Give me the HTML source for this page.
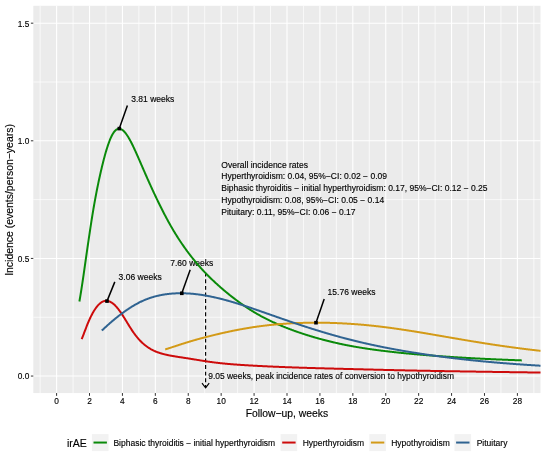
<!DOCTYPE html>
<html><head><meta charset="utf-8"><title>Incidence of irAE over follow-up</title>
<style>html,body{margin:0;padding:0;background:#fff}svg{display:block}text{font-family:"Liberation Sans",sans-serif;fill:#000;stroke:#000;stroke-width:0.14px}</style></head><body>
<svg width="550" height="455" viewBox="0 0 550 455">
<rect width="550" height="455" fill="#fff"/>
<rect x="33.3" y="5.8" width="507.2" height="387.25" fill="#ebebeb"/>
<g stroke="#ffffff" stroke-width="0.7">
<line x1="40.14" x2="40.14" y1="5.8" y2="393.05"/>
<line x1="73.06" x2="73.06" y1="5.8" y2="393.05"/>
<line x1="105.97" x2="105.97" y1="5.8" y2="393.05"/>
<line x1="138.88" x2="138.88" y1="5.8" y2="393.05"/>
<line x1="171.80" x2="171.80" y1="5.8" y2="393.05"/>
<line x1="204.71" x2="204.71" y1="5.8" y2="393.05"/>
<line x1="237.63" x2="237.63" y1="5.8" y2="393.05"/>
<line x1="270.54" x2="270.54" y1="5.8" y2="393.05"/>
<line x1="303.46" x2="303.46" y1="5.8" y2="393.05"/>
<line x1="336.37" x2="336.37" y1="5.8" y2="393.05"/>
<line x1="369.28" x2="369.28" y1="5.8" y2="393.05"/>
<line x1="402.20" x2="402.20" y1="5.8" y2="393.05"/>
<line x1="435.11" x2="435.11" y1="5.8" y2="393.05"/>
<line x1="468.03" x2="468.03" y1="5.8" y2="393.05"/>
<line x1="500.94" x2="500.94" y1="5.8" y2="393.05"/>
<line x1="533.85" x2="533.85" y1="5.8" y2="393.05"/>
<line x1="33.3" x2="540.5" y1="317.24" y2="317.24"/>
<line x1="33.3" x2="540.5" y1="199.61" y2="199.61"/>
<line x1="33.3" x2="540.5" y1="81.99" y2="81.99"/>
</g>
<g stroke="#ffffff" stroke-width="1.1">
<line x1="56.60" x2="56.60" y1="5.8" y2="393.05"/>
<line x1="89.51" x2="89.51" y1="5.8" y2="393.05"/>
<line x1="122.43" x2="122.43" y1="5.8" y2="393.05"/>
<line x1="155.34" x2="155.34" y1="5.8" y2="393.05"/>
<line x1="188.26" x2="188.26" y1="5.8" y2="393.05"/>
<line x1="221.17" x2="221.17" y1="5.8" y2="393.05"/>
<line x1="254.08" x2="254.08" y1="5.8" y2="393.05"/>
<line x1="287.00" x2="287.00" y1="5.8" y2="393.05"/>
<line x1="319.91" x2="319.91" y1="5.8" y2="393.05"/>
<line x1="352.83" x2="352.83" y1="5.8" y2="393.05"/>
<line x1="385.74" x2="385.74" y1="5.8" y2="393.05"/>
<line x1="418.65" x2="418.65" y1="5.8" y2="393.05"/>
<line x1="451.57" x2="451.57" y1="5.8" y2="393.05"/>
<line x1="484.48" x2="484.48" y1="5.8" y2="393.05"/>
<line x1="517.40" x2="517.40" y1="5.8" y2="393.05"/>
<line x1="33.3" x2="540.5" y1="376.05" y2="376.05"/>
<line x1="33.3" x2="540.5" y1="258.43" y2="258.43"/>
<line x1="33.3" x2="540.5" y1="140.80" y2="140.80"/>
<line x1="33.3" x2="540.5" y1="23.18" y2="23.18"/>
</g>
<text x="131.2" y="102" font-size="8.52" text-anchor="start" fill="#000" >3.81 weeks</text>
<text x="118.6" y="279.7" font-size="8.52" text-anchor="start" fill="#000" >3.06 weeks</text>
<text x="170.2" y="265.6" font-size="8.52" text-anchor="start" fill="#000" >7.60 weeks</text>
<text x="327.6" y="294.9" font-size="8.52" text-anchor="start" fill="#000" >15.76 weeks</text>
<text x="208.2" y="378.8" font-size="8.45" text-anchor="start" fill="#000" >9.05 weeks, peak incidence rates of conversion to hypothyroidism</text>
<text x="221.3" y="167.70" font-size="8.52" text-anchor="start" fill="#000" >Overall incidence rates</text>
<text x="221.3" y="179.48" font-size="8.52" text-anchor="start" fill="#000" >Hyperthyroidism: 0.04, 95%−CI: 0.02 − 0.09</text>
<text x="221.3" y="191.26" font-size="8.52" text-anchor="start" fill="#000" >Biphasic thyroiditis − initial hyperthyroidism: 0.17, 95%−CI: 0.12 − 0.25</text>
<text x="221.3" y="203.04" font-size="8.52" text-anchor="start" fill="#000" >Hypothyroidism: 0.08, 95%−CI: 0.05 − 0.14</text>
<text x="221.3" y="214.82" font-size="8.52" text-anchor="start" fill="#000" >Pituitary: 0.11, 95%−CI: 0.06 − 0.17</text>
<g stroke="#000" stroke-width="1.15" fill="none">
<line x1="205.6" y1="272.7" x2="205.6" y2="387.7" stroke-dasharray="3.9 2.7"/>
<path d="M202,383.1 L205.6,387.9 L209.2,383.1"/>
</g>
<clipPath id="pc"><rect x="33.3" y="5.8" width="507.2" height="387.25"/></clipPath>
<g clip-path="url(#pc)" fill="none" stroke-width="2.0" stroke-linejoin="round" stroke-linecap="butt">
<path d="M79.40,301.48 L79.90,298.54 L80.40,295.54 L80.90,292.47 L81.40,289.34 L81.90,286.13 L82.40,282.85 L82.90,279.50 L83.40,276.09 L83.90,272.63 L84.40,269.15 L84.90,265.64 L85.40,262.13 L85.90,258.62 L86.40,255.12 L86.90,251.64 L87.40,248.18 L87.90,244.74 L88.40,241.32 L88.90,237.93 L89.40,234.56 L89.90,231.23 L90.40,227.93 L90.90,224.66 L91.40,221.45 L91.90,218.28 L92.40,215.17 L92.90,212.13 L93.40,209.15 L93.90,206.23 L94.40,203.38 L94.90,200.59 L95.40,197.86 L95.90,195.20 L96.40,192.59 L96.90,190.04 L97.40,187.53 L97.90,185.08 L98.40,182.67 L98.90,180.31 L99.40,178.00 L99.90,175.72 L100.40,173.49 L100.90,171.30 L101.40,169.15 L101.90,167.04 L102.40,164.98 L102.90,162.96 L103.40,160.99 L103.90,159.06 L104.40,157.18 L104.90,155.34 L105.40,153.56 L105.90,151.82 L106.40,150.14 L106.90,148.51 L107.40,146.93 L107.90,145.42 L108.40,143.96 L108.90,142.56 L109.40,141.23 L109.90,139.95 L110.40,138.74 L110.90,137.60 L111.40,136.52 L111.90,135.51 L112.40,134.57 L112.90,133.70 L113.40,132.91 L113.90,132.18 L114.40,131.53 L114.90,130.96 L115.40,130.45 L115.90,130.01 L116.40,129.64 L116.90,129.33 L117.40,129.09 L117.90,128.91 L118.40,128.80 L118.90,128.75 L119.40,128.75 L119.90,128.82 L120.40,128.94 L120.90,129.12 L121.40,129.35 L121.90,129.63 L122.40,129.96 L122.90,130.35 L123.40,130.78 L123.90,131.25 L124.40,131.77 L124.90,132.33 L125.40,132.94 L125.90,133.58 L126.40,134.26 L126.90,134.97 L127.40,135.73 L127.90,136.51 L128.40,137.32 L128.90,138.17 L129.40,139.04 L129.90,139.94 L130.40,140.87 L130.90,141.81 L131.40,142.78 L131.90,143.77 L132.40,144.78 L132.90,145.81 L133.40,146.85 L133.90,147.91 L134.40,148.98 L134.90,150.07 L135.40,151.16 L135.90,152.27 L136.40,153.38 L136.90,154.50 L137.40,155.63 L137.90,156.77 L138.40,157.91 L138.90,159.05 L139.40,160.20 L139.90,161.35 L140.40,162.50 L140.90,163.66 L141.40,164.81 L141.90,165.97 L142.40,167.12 L142.90,168.27 L143.40,169.42 L143.90,170.57 L144.40,171.72 L144.90,172.86 L145.40,174.00 L145.90,175.14 L146.40,176.27 L146.90,177.40 L147.40,178.53 L147.90,179.65 L148.40,180.77 L148.90,181.89 L149.40,183.00 L149.90,184.10 L150.40,185.21 L150.90,186.30 L151.40,187.40 L151.90,188.49 L152.40,189.57 L152.90,190.65 L153.40,191.73 L153.90,192.80 L154.40,193.86 L154.90,194.92 L155.40,195.98 L155.90,197.03 L156.40,198.08 L156.90,199.12 L157.40,200.16 L157.90,201.19 L158.40,202.22 L158.90,203.25 L159.40,204.26 L159.90,205.28 L160.40,206.29 L160.90,207.29 L161.40,208.29 L161.90,209.28 L162.40,210.27 L162.90,211.25 L163.40,212.23 L163.90,213.20 L164.40,214.17 L164.90,215.13 L165.40,216.08 L165.90,217.03 L166.40,217.97 L166.90,218.90 L167.40,219.83 L167.90,220.75 L168.40,221.66 L168.90,222.57 L169.40,223.46 L169.90,224.36 L170.40,225.24 L170.90,226.12 L171.40,226.99 L171.90,227.85 L172.40,228.71 L172.90,229.56 L173.40,230.40 L173.90,231.24 L174.40,232.07 L174.90,232.89 L175.40,233.71 L175.90,234.51 L176.40,235.32 L176.90,236.11 L177.40,236.90 L177.90,237.69 L178.40,238.46 L178.90,239.23 L179.40,240.00 L179.90,240.76 L180.40,241.51 L180.90,242.26 L181.40,243.00 L181.90,243.73 L182.40,244.46 L182.90,245.19 L183.40,245.91 L183.90,246.62 L184.40,247.33 L184.90,248.03 L185.40,248.73 L185.90,249.43 L186.40,250.11 L186.90,250.80 L187.40,251.48 L187.90,252.15 L188.40,252.82 L188.90,253.48 L189.40,254.14 L189.90,254.80 L190.40,255.45 L190.90,256.09 L191.40,256.74 L191.90,257.37 L192.40,258.00 L192.90,258.63 L193.40,259.25 L193.90,259.87 L194.40,260.49 L194.90,261.10 L195.40,261.70 L195.90,262.30 L196.40,262.90 L196.90,263.49 L197.40,264.08 L197.90,264.66 L198.40,265.24 L198.90,265.82 L199.40,266.39 L199.90,266.95 L200.40,267.52 L200.90,268.07 L201.40,268.63 L201.90,269.18 L202.40,269.72 L202.90,270.27 L203.40,270.80 L203.90,271.34 L204.40,271.87 L204.90,272.39 L205.40,272.92 L205.90,273.44 L206.40,273.95 L206.90,274.46 L207.40,274.97 L207.90,275.48 L208.40,275.98 L208.90,276.48 L209.40,276.97 L209.90,277.47 L210.40,277.96 L210.90,278.44 L211.40,278.93 L211.90,279.41 L212.40,279.88 L212.90,280.36 L213.40,280.83 L213.90,281.30 L214.40,281.77 L214.90,282.24 L215.40,282.70 L215.90,283.16 L216.40,283.62 L216.90,284.07 L217.40,284.53 L217.90,284.98 L218.40,285.43 L218.90,285.88 L219.40,286.32 L219.90,286.76 L220.40,287.20 L220.90,287.64 L221.40,288.08 L221.90,288.51 L222.40,288.94 L222.90,289.37 L223.40,289.80 L223.90,290.23 L224.40,290.65 L224.90,291.07 L225.40,291.49 L225.90,291.91 L226.40,292.32 L226.90,292.73 L227.40,293.14 L227.90,293.55 L228.40,293.96 L228.90,294.36 L229.40,294.76 L229.90,295.16 L230.40,295.56 L230.90,295.96 L231.40,296.35 L231.90,296.74 L232.40,297.13 L232.90,297.52 L233.40,297.91 L233.90,298.29 L234.40,298.67 L234.90,299.05 L235.40,299.43 L235.90,299.81 L236.40,300.18 L236.90,300.55 L237.40,300.92 L237.90,301.29 L238.40,301.66 L238.90,302.02 L239.40,302.39 L239.90,302.75 L240.40,303.11 L240.90,303.46 L241.40,303.82 L241.90,304.17 L242.40,304.52 L242.90,304.87 L243.40,305.21 L243.90,305.56 L244.40,305.90 L244.90,306.24 L245.40,306.58 L245.90,306.92 L246.40,307.25 L246.90,307.58 L247.40,307.91 L247.90,308.24 L248.40,308.57 L248.90,308.89 L249.40,309.22 L249.90,309.54 L250.40,309.85 L250.90,310.17 L251.40,310.48 L251.90,310.79 L252.40,311.10 L252.90,311.41 L253.40,311.72 L253.90,312.02 L254.40,312.32 L254.90,312.62 L255.40,312.91 L255.90,313.21 L256.40,313.50 L256.90,313.79 L257.40,314.08 L257.90,314.36 L258.40,314.65 L258.90,314.93 L259.40,315.21 L259.90,315.49 L260.40,315.76 L260.90,316.04 L261.40,316.31 L261.90,316.58 L262.40,316.85 L262.90,317.11 L263.40,317.38 L263.90,317.64 L264.40,317.90 L264.90,318.16 L265.40,318.41 L265.90,318.67 L266.40,318.92 L266.90,319.18 L267.40,319.43 L267.90,319.67 L268.40,319.92 L268.90,320.17 L269.40,320.41 L269.90,320.65 L270.40,320.89 L270.90,321.13 L271.40,321.37 L271.90,321.60 L272.40,321.83 L272.90,322.07 L273.40,322.30 L273.90,322.53 L274.40,322.75 L274.90,322.98 L275.40,323.21 L275.90,323.43 L276.40,323.65 L276.90,323.87 L277.40,324.09 L277.90,324.31 L278.40,324.52 L278.90,324.74 L279.40,324.95 L279.90,325.17 L280.40,325.38 L280.90,325.59 L281.40,325.80 L281.90,326.00 L282.40,326.21 L282.90,326.41 L283.40,326.62 L283.90,326.82 L284.40,327.02 L284.90,327.22 L285.40,327.42 L285.90,327.62 L286.40,327.82 L286.90,328.01 L287.40,328.21 L287.90,328.40 L288.40,328.60 L288.90,328.79 L289.40,328.98 L289.90,329.17 L290.40,329.36 L290.90,329.54 L291.40,329.73 L291.90,329.92 L292.40,330.10 L292.90,330.28 L293.40,330.47 L293.90,330.65 L294.40,330.83 L294.90,331.01 L295.40,331.19 L295.90,331.36 L296.40,331.54 L296.90,331.72 L297.40,331.89 L297.90,332.07 L298.40,332.24 L298.90,332.41 L299.40,332.58 L299.90,332.75 L300.40,332.92 L300.90,333.09 L301.40,333.26 L301.90,333.42 L302.40,333.59 L302.90,333.75 L303.40,333.92 L303.90,334.08 L304.40,334.24 L304.90,334.40 L305.40,334.57 L305.90,334.72 L306.40,334.88 L306.90,335.04 L307.40,335.20 L307.90,335.36 L308.40,335.51 L308.90,335.67 L309.40,335.82 L309.90,335.97 L310.40,336.12 L310.90,336.28 L311.40,336.43 L311.90,336.58 L312.40,336.73 L312.90,336.87 L313.40,337.02 L313.90,337.17 L314.40,337.31 L314.90,337.46 L315.40,337.60 L315.90,337.75 L316.40,337.89 L316.90,338.03 L317.40,338.17 L317.90,338.31 L318.40,338.45 L318.90,338.59 L319.40,338.73 L319.90,338.87 L320.40,339.00 L320.90,339.14 L321.40,339.27 L321.90,339.41 L322.40,339.54 L322.90,339.67 L323.40,339.81 L323.90,339.94 L324.40,340.07 L324.90,340.20 L325.40,340.33 L325.90,340.46 L326.40,340.58 L326.90,340.71 L327.40,340.84 L327.90,340.96 L328.40,341.09 L328.90,341.21 L329.40,341.34 L329.90,341.46 L330.40,341.58 L330.90,341.70 L331.40,341.82 L331.90,341.94 L332.40,342.06 L332.90,342.18 L333.40,342.30 L333.90,342.41 L334.40,342.53 L334.90,342.65 L335.40,342.76 L335.90,342.88 L336.40,342.99 L336.90,343.10 L337.40,343.21 L337.90,343.32 L338.40,343.43 L338.90,343.54 L339.40,343.65 L339.90,343.76 L340.40,343.87 L340.90,343.98 L341.40,344.08 L341.90,344.19 L342.40,344.29 L342.90,344.40 L343.40,344.50 L343.90,344.61 L344.40,344.71 L344.90,344.81 L345.40,344.91 L345.90,345.01 L346.40,345.11 L346.90,345.21 L347.40,345.31 L347.90,345.40 L348.40,345.50 L348.90,345.60 L349.40,345.69 L349.90,345.79 L350.40,345.88 L350.90,345.98 L351.40,346.07 L351.90,346.16 L352.40,346.25 L352.90,346.34 L353.40,346.43 L353.90,346.52 L354.40,346.61 L354.90,346.70 L355.40,346.79 L355.90,346.88 L356.40,346.96 L356.90,347.05 L357.40,347.14 L357.90,347.22 L358.40,347.30 L358.90,347.39 L359.40,347.47 L359.90,347.55 L360.40,347.64 L360.90,347.72 L361.40,347.80 L361.90,347.88 L362.40,347.96 L362.90,348.04 L363.40,348.12 L363.90,348.19 L364.40,348.27 L364.90,348.35 L365.40,348.43 L365.90,348.50 L366.40,348.58 L366.90,348.65 L367.40,348.73 L367.90,348.80 L368.40,348.88 L368.90,348.95 L369.40,349.02 L369.90,349.09 L370.40,349.16 L370.90,349.24 L371.40,349.31 L371.90,349.38 L372.40,349.45 L372.90,349.52 L373.40,349.59 L373.90,349.65 L374.40,349.72 L374.90,349.79 L375.40,349.86 L375.90,349.92 L376.40,349.99 L376.90,350.06 L377.40,350.12 L377.90,350.19 L378.40,350.25 L378.90,350.32 L379.40,350.38 L379.90,350.45 L380.40,350.51 L380.90,350.57 L381.40,350.64 L381.90,350.70 L382.40,350.76 L382.90,350.82 L383.40,350.88 L383.90,350.94 L384.40,351.00 L384.90,351.06 L385.40,351.12 L385.90,351.18 L386.40,351.24 L386.90,351.30 L387.40,351.36 L387.90,351.42 L388.40,351.48 L388.90,351.54 L389.40,351.59 L389.90,351.65 L390.40,351.71 L390.90,351.76 L391.40,351.82 L391.90,351.88 L392.40,351.93 L392.90,351.99 L393.40,352.04 L393.90,352.10 L394.40,352.15 L394.90,352.20 L395.40,352.26 L395.90,352.31 L396.40,352.37 L396.90,352.42 L397.40,352.47 L397.90,352.52 L398.40,352.58 L398.90,352.63 L399.40,352.68 L399.90,352.73 L400.40,352.78 L400.90,352.83 L401.40,352.89 L401.90,352.94 L402.40,352.99 L402.90,353.04 L403.40,353.09 L403.90,353.14 L404.40,353.19 L404.90,353.24 L405.40,353.28 L405.90,353.33 L406.40,353.38 L406.90,353.43 L407.40,353.48 L407.90,353.53 L408.40,353.57 L408.90,353.62 L409.40,353.67 L409.90,353.71 L410.40,353.76 L410.90,353.81 L411.40,353.85 L411.90,353.90 L412.40,353.95 L412.90,353.99 L413.40,354.04 L413.90,354.08 L414.40,354.13 L414.90,354.17 L415.40,354.22 L415.90,354.26 L416.40,354.30 L416.90,354.35 L417.40,354.39 L417.90,354.44 L418.40,354.48 L418.90,354.52 L419.40,354.57 L419.90,354.61 L420.40,354.65 L420.90,354.69 L421.40,354.74 L421.90,354.78 L422.40,354.82 L422.90,354.86 L423.40,354.90 L423.90,354.94 L424.40,354.99 L424.90,355.03 L425.40,355.07 L425.90,355.11 L426.40,355.15 L426.90,355.19 L427.40,355.23 L427.90,355.27 L428.40,355.31 L428.90,355.35 L429.40,355.39 L429.90,355.43 L430.40,355.47 L430.90,355.50 L431.40,355.54 L431.90,355.58 L432.40,355.62 L432.90,355.66 L433.40,355.70 L433.90,355.73 L434.40,355.77 L434.90,355.81 L435.40,355.85 L435.90,355.88 L436.40,355.92 L436.90,355.96 L437.40,355.99 L437.90,356.03 L438.40,356.07 L438.90,356.10 L439.40,356.14 L439.90,356.18 L440.40,356.21 L440.90,356.25 L441.40,356.28 L441.90,356.32 L442.40,356.35 L442.90,356.39 L443.40,356.42 L443.90,356.46 L444.40,356.49 L444.90,356.53 L445.40,356.56 L445.90,356.60 L446.40,356.63 L446.90,356.67 L447.40,356.70 L447.90,356.73 L448.40,356.77 L448.90,356.80 L449.40,356.83 L449.90,356.87 L450.40,356.90 L450.90,356.93 L451.40,356.97 L451.90,357.00 L452.40,357.03 L452.90,357.06 L453.40,357.10 L453.90,357.13 L454.40,357.16 L454.90,357.19 L455.40,357.22 L455.90,357.25 L456.40,357.29 L456.90,357.32 L457.40,357.35 L457.90,357.38 L458.40,357.41 L458.90,357.44 L459.40,357.47 L459.90,357.50 L460.40,357.53 L460.90,357.56 L461.40,357.59 L461.90,357.62 L462.40,357.65 L462.90,357.68 L463.40,357.71 L463.90,357.74 L464.40,357.77 L464.90,357.80 L465.40,357.83 L465.90,357.86 L466.40,357.89 L466.90,357.92 L467.40,357.94 L467.90,357.97 L468.40,358.00 L468.90,358.03 L469.40,358.06 L469.90,358.08 L470.40,358.11 L470.90,358.14 L471.40,358.17 L471.90,358.20 L472.40,358.22 L472.90,358.25 L473.40,358.28 L473.90,358.30 L474.40,358.33 L474.90,358.36 L475.40,358.38 L475.90,358.41 L476.40,358.44 L476.90,358.46 L477.40,358.49 L477.90,358.51 L478.40,358.54 L478.90,358.57 L479.40,358.59 L479.90,358.62 L480.40,358.64 L480.90,358.67 L481.40,358.69 L481.90,358.72 L482.40,358.74 L482.90,358.77 L483.40,358.79 L483.90,358.82 L484.40,358.84 L484.90,358.86 L485.40,358.89 L485.90,358.91 L486.40,358.94 L486.90,358.96 L487.40,358.98 L487.90,359.01 L488.40,359.03 L488.90,359.05 L489.40,359.08 L489.90,359.10 L490.40,359.12 L490.90,359.14 L491.40,359.17 L491.90,359.19 L492.40,359.21 L492.90,359.24 L493.40,359.26 L493.90,359.28 L494.40,359.30 L494.90,359.32 L495.40,359.35 L495.90,359.37 L496.40,359.39 L496.90,359.41 L497.40,359.43 L497.90,359.45 L498.40,359.48 L498.90,359.50 L499.40,359.52 L499.90,359.54 L500.40,359.56 L500.90,359.58 L501.40,359.60 L501.90,359.62 L502.40,359.64 L502.90,359.66 L503.40,359.68 L503.90,359.70 L504.40,359.72 L504.90,359.74 L505.40,359.76 L505.90,359.78 L506.40,359.80 L506.90,359.82 L507.40,359.84 L507.90,359.86 L508.40,359.88 L508.90,359.90 L509.40,359.92 L509.90,359.94 L510.40,359.96 L510.90,359.98 L511.40,360.00 L511.90,360.02 L512.40,360.04 L512.90,360.06 L513.40,360.08 L513.90,360.10 L514.40,360.12 L514.90,360.13 L515.40,360.15 L515.90,360.17 L516.40,360.19 L516.90,360.21 L517.40,360.23 L517.90,360.25 L518.40,360.26 L518.90,360.28 L519.40,360.30 L519.90,360.32 L520.40,360.34 L520.90,360.36 L521.40,360.38 L521.80,360.39" stroke="#0a8a0a"/>
<path d="M81.70,339.16 L82.20,337.90 L82.70,336.63 L83.20,335.34 L83.70,334.04 L84.20,332.73 L84.70,331.42 L85.20,330.10 L85.70,328.80 L86.20,327.50 L86.70,326.22 L87.20,324.95 L87.70,323.71 L88.20,322.50 L88.70,321.31 L89.20,320.16 L89.70,319.04 L90.20,317.96 L90.70,316.91 L91.20,315.90 L91.70,314.93 L92.20,313.99 L92.70,313.08 L93.20,312.21 L93.70,311.36 L94.20,310.55 L94.70,309.77 L95.20,309.01 L95.70,308.29 L96.20,307.59 L96.70,306.93 L97.20,306.30 L97.70,305.70 L98.20,305.14 L98.70,304.61 L99.20,304.12 L99.70,303.66 L100.20,303.24 L100.70,302.85 L101.20,302.49 L101.70,302.18 L102.20,301.89 L102.70,301.64 L103.20,301.43 L103.70,301.24 L104.20,301.09 L104.70,300.98 L105.20,300.89 L105.70,300.84 L106.20,300.82 L106.70,300.83 L107.20,300.88 L107.70,300.95 L108.20,301.05 L108.70,301.19 L109.20,301.35 L109.70,301.55 L110.20,301.77 L110.70,302.03 L111.20,302.31 L111.70,302.62 L112.20,302.96 L112.70,303.33 L113.20,303.72 L113.70,304.14 L114.20,304.59 L114.70,305.06 L115.20,305.55 L115.70,306.07 L116.20,306.61 L116.70,307.18 L117.20,307.76 L117.70,308.37 L118.20,308.99 L118.70,309.64 L119.20,310.30 L119.70,310.98 L120.20,311.67 L120.70,312.39 L121.20,313.11 L121.70,313.86 L122.20,314.61 L122.70,315.38 L123.20,316.16 L123.70,316.96 L124.20,317.76 L124.70,318.56 L125.20,319.38 L125.70,320.20 L126.20,321.02 L126.70,321.84 L127.20,322.66 L127.70,323.48 L128.20,324.30 L128.70,325.11 L129.20,325.92 L129.70,326.73 L130.20,327.52 L130.70,328.30 L131.20,329.08 L131.70,329.84 L132.20,330.59 L132.70,331.33 L133.20,332.06 L133.70,332.77 L134.20,333.47 L134.70,334.15 L135.20,334.82 L135.70,335.48 L136.20,336.12 L136.70,336.74 L137.20,337.36 L137.70,337.95 L138.20,338.54 L138.70,339.11 L139.20,339.66 L139.70,340.21 L140.20,340.73 L140.70,341.25 L141.20,341.75 L141.70,342.24 L142.20,342.71 L142.70,343.17 L143.20,343.62 L143.70,344.06 L144.20,344.49 L144.70,344.90 L145.20,345.30 L145.70,345.69 L146.20,346.07 L146.70,346.44 L147.20,346.80 L147.70,347.15 L148.20,347.49 L148.70,347.81 L149.20,348.13 L149.70,348.44 L150.20,348.74 L150.70,349.03 L151.20,349.32 L151.70,349.59 L152.20,349.85 L152.70,350.11 L153.20,350.36 L153.70,350.60 L154.20,350.84 L154.70,351.06 L155.20,351.28 L155.70,351.50 L156.20,351.70 L156.70,351.90 L157.20,352.09 L157.70,352.28 L158.20,352.46 L158.70,352.63 L159.20,352.80 L159.70,352.97 L160.20,353.13 L160.70,353.28 L161.20,353.43 L161.70,353.58 L162.20,353.72 L162.70,353.86 L163.20,354.00 L163.70,354.13 L164.20,354.25 L164.70,354.38 L165.20,354.50 L165.70,354.61 L166.20,354.73 L166.70,354.84 L167.20,354.95 L167.70,355.06 L168.20,355.16 L168.70,355.26 L169.20,355.36 L169.70,355.46 L170.20,355.56 L170.70,355.65 L171.20,355.74 L171.70,355.83 L172.20,355.92 L172.70,356.01 L173.20,356.10 L173.70,356.18 L174.20,356.26 L174.70,356.35 L175.20,356.43 L175.70,356.51 L176.20,356.59 L176.70,356.67 L177.20,356.75 L177.70,356.83 L178.20,356.91 L178.70,356.98 L179.20,357.06 L179.70,357.14 L180.20,357.21 L180.70,357.29 L181.20,357.36 L181.70,357.44 L182.20,357.51 L182.70,357.59 L183.20,357.67 L183.70,357.74 L184.20,357.82 L184.70,357.89 L185.20,357.97 L185.70,358.04 L186.20,358.12 L186.70,358.20 L187.20,358.27 L187.70,358.35 L188.20,358.43 L188.70,358.51 L189.20,358.58 L189.70,358.66 L190.20,358.74 L190.70,358.82 L191.20,358.90 L191.70,358.98 L192.20,359.06 L192.70,359.14 L193.20,359.23 L193.70,359.31 L194.20,359.39 L194.70,359.47 L195.20,359.55 L195.70,359.63 L196.20,359.72 L196.70,359.80 L197.20,359.88 L197.70,359.97 L198.20,360.05 L198.70,360.13 L199.20,360.21 L199.70,360.29 L200.20,360.38 L200.70,360.46 L201.20,360.54 L201.70,360.62 L202.20,360.70 L202.70,360.78 L203.20,360.86 L203.70,360.94 L204.20,361.02 L204.70,361.09 L205.20,361.17 L205.70,361.25 L206.20,361.32 L206.70,361.40 L207.20,361.47 L207.70,361.55 L208.20,361.62 L208.70,361.69 L209.20,361.76 L209.70,361.83 L210.20,361.90 L210.70,361.97 L211.20,362.04 L211.70,362.11 L212.20,362.18 L212.70,362.24 L213.20,362.31 L213.70,362.37 L214.20,362.44 L214.70,362.50 L215.20,362.56 L215.70,362.62 L216.20,362.69 L216.70,362.75 L217.20,362.80 L217.70,362.86 L218.20,362.92 L218.70,362.98 L219.20,363.04 L219.70,363.09 L220.20,363.15 L220.70,363.20 L221.20,363.25 L221.70,363.31 L222.20,363.36 L222.70,363.41 L223.20,363.46 L223.70,363.51 L224.20,363.56 L224.70,363.61 L225.20,363.65 L225.70,363.70 L226.20,363.75 L226.70,363.79 L227.20,363.84 L227.70,363.88 L228.20,363.93 L228.70,363.97 L229.20,364.01 L229.70,364.06 L230.20,364.10 L230.70,364.14 L231.20,364.18 L231.70,364.22 L232.20,364.26 L232.70,364.30 L233.20,364.34 L233.70,364.38 L234.20,364.42 L234.70,364.45 L235.20,364.49 L235.70,364.53 L236.20,364.57 L236.70,364.60 L237.20,364.64 L237.70,364.67 L238.20,364.71 L238.70,364.74 L239.20,364.78 L239.70,364.81 L240.20,364.85 L240.70,364.88 L241.20,364.91 L241.70,364.95 L242.20,364.98 L242.70,365.01 L243.20,365.04 L243.70,365.08 L244.20,365.11 L244.70,365.14 L245.20,365.17 L245.70,365.20 L246.20,365.23 L246.70,365.26 L247.20,365.29 L247.70,365.32 L248.20,365.35 L248.70,365.38 L249.20,365.41 L249.70,365.44 L250.20,365.47 L250.70,365.50 L251.20,365.53 L251.70,365.55 L252.20,365.58 L252.70,365.61 L253.20,365.64 L253.70,365.67 L254.20,365.69 L254.70,365.72 L255.20,365.75 L255.70,365.77 L256.20,365.80 L256.70,365.83 L257.20,365.85 L257.70,365.88 L258.20,365.91 L258.70,365.93 L259.20,365.96 L259.70,365.98 L260.20,366.01 L260.70,366.04 L261.20,366.06 L261.70,366.09 L262.20,366.11 L262.70,366.14 L263.20,366.16 L263.70,366.18 L264.20,366.21 L264.70,366.23 L265.20,366.26 L265.70,366.28 L266.20,366.31 L266.70,366.33 L267.20,366.35 L267.70,366.38 L268.20,366.40 L268.70,366.42 L269.20,366.45 L269.70,366.47 L270.20,366.49 L270.70,366.52 L271.20,366.54 L271.70,366.56 L272.20,366.58 L272.70,366.61 L273.20,366.63 L273.70,366.65 L274.20,366.67 L274.70,366.70 L275.20,366.72 L275.70,366.74 L276.20,366.76 L276.70,366.78 L277.20,366.80 L277.70,366.83 L278.20,366.85 L278.70,366.87 L279.20,366.89 L279.70,366.91 L280.20,366.93 L280.70,366.95 L281.20,366.97 L281.70,366.99 L282.20,367.01 L282.70,367.03 L283.20,367.05 L283.70,367.07 L284.20,367.09 L284.70,367.11 L285.20,367.13 L285.70,367.15 L286.20,367.17 L286.70,367.19 L287.20,367.21 L287.70,367.23 L288.20,367.25 L288.70,367.26 L289.20,367.28 L289.70,367.30 L290.20,367.32 L290.70,367.34 L291.20,367.36 L291.70,367.37 L292.20,367.39 L292.70,367.41 L293.20,367.43 L293.70,367.45 L294.20,367.46 L294.70,367.48 L295.20,367.50 L295.70,367.51 L296.20,367.53 L296.70,367.55 L297.20,367.57 L297.70,367.58 L298.20,367.60 L298.70,367.62 L299.20,367.63 L299.70,367.65 L300.20,367.66 L300.70,367.68 L301.20,367.70 L301.70,367.71 L302.20,367.73 L302.70,367.75 L303.20,367.76 L303.70,367.78 L304.20,367.79 L304.70,367.81 L305.20,367.82 L305.70,367.84 L306.20,367.85 L306.70,367.87 L307.20,367.89 L307.70,367.90 L308.20,367.92 L308.70,367.93 L309.20,367.95 L309.70,367.96 L310.20,367.98 L310.70,367.99 L311.20,368.01 L311.70,368.02 L312.20,368.04 L312.70,368.05 L313.20,368.06 L313.70,368.08 L314.20,368.09 L314.70,368.11 L315.20,368.12 L315.70,368.14 L316.20,368.15 L316.70,368.16 L317.20,368.18 L317.70,368.19 L318.20,368.21 L318.70,368.22 L319.20,368.24 L319.70,368.25 L320.20,368.26 L320.70,368.28 L321.20,368.29 L321.70,368.30 L322.20,368.32 L322.70,368.33 L323.20,368.35 L323.70,368.36 L324.20,368.37 L324.70,368.39 L325.20,368.40 L325.70,368.41 L326.20,368.43 L326.70,368.44 L327.20,368.45 L327.70,368.47 L328.20,368.48 L328.70,368.49 L329.20,368.51 L329.70,368.52 L330.20,368.53 L330.70,368.55 L331.20,368.56 L331.70,368.57 L332.20,368.58 L332.70,368.60 L333.20,368.61 L333.70,368.62 L334.20,368.64 L334.70,368.65 L335.20,368.66 L335.70,368.68 L336.20,368.69 L336.70,368.70 L337.20,368.71 L337.70,368.73 L338.20,368.74 L338.70,368.75 L339.20,368.77 L339.70,368.78 L340.20,368.79 L340.70,368.80 L341.20,368.82 L341.70,368.83 L342.20,368.84 L342.70,368.85 L343.20,368.87 L343.70,368.88 L344.20,368.89 L344.70,368.91 L345.20,368.92 L345.70,368.93 L346.20,368.94 L346.70,368.96 L347.20,368.97 L347.70,368.98 L348.20,368.99 L348.70,369.01 L349.20,369.02 L349.70,369.03 L350.20,369.04 L350.70,369.06 L351.20,369.07 L351.70,369.08 L352.20,369.09 L352.70,369.11 L353.20,369.12 L353.70,369.13 L354.20,369.14 L354.70,369.16 L355.20,369.17 L355.70,369.18 L356.20,369.19 L356.70,369.21 L357.20,369.22 L357.70,369.23 L358.20,369.24 L358.70,369.26 L359.20,369.27 L359.70,369.28 L360.20,369.29 L360.70,369.31 L361.20,369.32 L361.70,369.33 L362.20,369.34 L362.70,369.36 L363.20,369.37 L363.70,369.38 L364.20,369.39 L364.70,369.41 L365.20,369.42 L365.70,369.43 L366.20,369.44 L366.70,369.46 L367.20,369.47 L367.70,369.48 L368.20,369.49 L368.70,369.51 L369.20,369.52 L369.70,369.53 L370.20,369.54 L370.70,369.56 L371.20,369.57 L371.70,369.58 L372.20,369.59 L372.70,369.61 L373.20,369.62 L373.70,369.63 L374.20,369.64 L374.70,369.65 L375.20,369.67 L375.70,369.68 L376.20,369.69 L376.70,369.70 L377.20,369.72 L377.70,369.73 L378.20,369.74 L378.70,369.75 L379.20,369.77 L379.70,369.78 L380.20,369.79 L380.70,369.80 L381.20,369.81 L381.70,369.83 L382.20,369.84 L382.70,369.85 L383.20,369.86 L383.70,369.88 L384.20,369.89 L384.70,369.90 L385.20,369.91 L385.70,369.92 L386.20,369.94 L386.70,369.95 L387.20,369.96 L387.70,369.97 L388.20,369.98 L388.70,370.00 L389.20,370.01 L389.70,370.02 L390.20,370.03 L390.70,370.04 L391.20,370.06 L391.70,370.07 L392.20,370.08 L392.70,370.09 L393.20,370.10 L393.70,370.12 L394.20,370.13 L394.70,370.14 L395.20,370.15 L395.70,370.16 L396.20,370.18 L396.70,370.19 L397.20,370.20 L397.70,370.21 L398.20,370.22 L398.70,370.23 L399.20,370.24 L399.70,370.26 L400.20,370.27 L400.70,370.28 L401.20,370.29 L401.70,370.30 L402.20,370.31 L402.70,370.32 L403.20,370.33 L403.70,370.35 L404.20,370.36 L404.70,370.37 L405.20,370.38 L405.70,370.39 L406.20,370.40 L406.70,370.41 L407.20,370.42 L407.70,370.43 L408.20,370.44 L408.70,370.45 L409.20,370.46 L409.70,370.47 L410.20,370.48 L410.70,370.50 L411.20,370.51 L411.70,370.52 L412.20,370.53 L412.70,370.54 L413.20,370.55 L413.70,370.56 L414.20,370.57 L414.70,370.58 L415.20,370.59 L415.70,370.60 L416.20,370.61 L416.70,370.62 L417.20,370.63 L417.70,370.64 L418.20,370.65 L418.70,370.66 L419.20,370.67 L419.70,370.68 L420.20,370.69 L420.70,370.70 L421.20,370.71 L421.70,370.72 L422.20,370.73 L422.70,370.73 L423.20,370.74 L423.70,370.75 L424.20,370.76 L424.70,370.77 L425.20,370.78 L425.70,370.79 L426.20,370.80 L426.70,370.81 L427.20,370.82 L427.70,370.83 L428.20,370.84 L428.70,370.85 L429.20,370.86 L429.70,370.87 L430.20,370.87 L430.70,370.88 L431.20,370.89 L431.70,370.90 L432.20,370.91 L432.70,370.92 L433.20,370.93 L433.70,370.94 L434.20,370.95 L434.70,370.96 L435.20,370.96 L435.70,370.97 L436.20,370.98 L436.70,370.99 L437.20,371.00 L437.70,371.01 L438.20,371.02 L438.70,371.02 L439.20,371.03 L439.70,371.04 L440.20,371.05 L440.70,371.06 L441.20,371.07 L441.70,371.08 L442.20,371.08 L442.70,371.09 L443.20,371.10 L443.70,371.11 L444.20,371.12 L444.70,371.13 L445.20,371.13 L445.70,371.14 L446.20,371.15 L446.70,371.16 L447.20,371.17 L447.70,371.18 L448.20,371.18 L448.70,371.19 L449.20,371.20 L449.70,371.21 L450.20,371.22 L450.70,371.23 L451.20,371.23 L451.70,371.24 L452.20,371.25 L452.70,371.26 L453.20,371.27 L453.70,371.27 L454.20,371.28 L454.70,371.29 L455.20,371.30 L455.70,371.31 L456.20,371.31 L456.70,371.32 L457.20,371.33 L457.70,371.34 L458.20,371.35 L458.70,371.35 L459.20,371.36 L459.70,371.37 L460.20,371.38 L460.70,371.39 L461.20,371.39 L461.70,371.40 L462.20,371.41 L462.70,371.42 L463.20,371.42 L463.70,371.43 L464.20,371.44 L464.70,371.45 L465.20,371.46 L465.70,371.46 L466.20,371.47 L466.70,371.48 L467.20,371.49 L467.70,371.50 L468.20,371.50 L468.70,371.51 L469.20,371.52 L469.70,371.53 L470.20,371.53 L470.70,371.54 L471.20,371.55 L471.70,371.56 L472.20,371.56 L472.70,371.57 L473.20,371.58 L473.70,371.59 L474.20,371.60 L474.70,371.60 L475.20,371.61 L475.70,371.62 L476.20,371.63 L476.70,371.63 L477.20,371.64 L477.70,371.65 L478.20,371.66 L478.70,371.66 L479.20,371.67 L479.70,371.68 L480.20,371.69 L480.70,371.70 L481.20,371.70 L481.70,371.71 L482.20,371.72 L482.70,371.73 L483.20,371.73 L483.70,371.74 L484.20,371.75 L484.70,371.76 L485.20,371.76 L485.70,371.77 L486.20,371.78 L486.70,371.79 L487.20,371.79 L487.70,371.80 L488.20,371.81 L488.70,371.82 L489.20,371.82 L489.70,371.83 L490.20,371.84 L490.70,371.85 L491.20,371.85 L491.70,371.86 L492.20,371.87 L492.70,371.88 L493.20,371.88 L493.70,371.89 L494.20,371.90 L494.70,371.91 L495.20,371.91 L495.70,371.92 L496.20,371.93 L496.70,371.94 L497.20,371.94 L497.70,371.95 L498.20,371.96 L498.70,371.97 L499.20,371.97 L499.70,371.98 L500.20,371.99 L500.70,372.00 L501.20,372.00 L501.70,372.01 L502.20,372.02 L502.70,372.02 L503.20,372.03 L503.70,372.04 L504.20,372.05 L504.70,372.05 L505.20,372.06 L505.70,372.07 L506.20,372.08 L506.70,372.08 L507.20,372.09 L507.70,372.10 L508.20,372.11 L508.70,372.11 L509.20,372.12 L509.70,372.13 L510.20,372.13 L510.70,372.14 L511.20,372.15 L511.70,372.16 L512.20,372.16 L512.70,372.17 L513.20,372.18 L513.70,372.18 L514.20,372.19 L514.70,372.20 L515.20,372.21 L515.70,372.21 L516.20,372.22 L516.70,372.23 L517.20,372.24 L517.70,372.24 L518.20,372.25 L518.70,372.26 L519.20,372.26 L519.70,372.27 L520.20,372.28 L520.70,372.28 L521.20,372.29 L521.70,372.30 L522.20,372.31 L522.70,372.31 L523.20,372.32 L523.70,372.33 L524.20,372.33 L524.70,372.34 L525.20,372.35 L525.70,372.35 L526.20,372.36 L526.70,372.37 L527.20,372.37 L527.70,372.38 L528.20,372.39 L528.70,372.40 L529.20,372.40 L529.70,372.41 L530.20,372.42 L530.70,372.42 L531.20,372.43 L531.70,372.44 L532.20,372.44 L532.70,372.45 L533.20,372.46 L533.70,372.46 L534.20,372.47 L534.70,372.48 L535.20,372.48 L535.70,372.49 L536.20,372.50 L536.70,372.50 L537.20,372.51 L537.70,372.51 L538.20,372.52 L538.70,372.53 L539.20,372.53 L539.70,372.54 L540.20,372.55 L540.70,372.55 L541.00,372.56" stroke="#cd0b0b"/>
<path d="M165.20,349.47 L165.70,349.31 L166.20,349.14 L166.70,348.98 L167.20,348.82 L167.70,348.65 L168.20,348.49 L168.70,348.32 L169.20,348.16 L169.70,347.99 L170.20,347.83 L170.70,347.66 L171.20,347.50 L171.70,347.33 L172.20,347.17 L172.70,347.00 L173.20,346.84 L173.70,346.67 L174.20,346.51 L174.70,346.34 L175.20,346.18 L175.70,346.01 L176.20,345.85 L176.70,345.69 L177.20,345.52 L177.70,345.36 L178.20,345.20 L178.70,345.03 L179.20,344.87 L179.70,344.71 L180.20,344.55 L180.70,344.39 L181.20,344.23 L181.70,344.07 L182.20,343.91 L182.70,343.75 L183.20,343.59 L183.70,343.43 L184.20,343.27 L184.70,343.11 L185.20,342.96 L185.70,342.80 L186.20,342.65 L186.70,342.49 L187.20,342.34 L187.70,342.18 L188.20,342.03 L188.70,341.88 L189.20,341.73 L189.70,341.58 L190.20,341.43 L190.70,341.28 L191.20,341.13 L191.70,340.98 L192.20,340.84 L192.70,340.69 L193.20,340.54 L193.70,340.40 L194.20,340.26 L194.70,340.11 L195.20,339.97 L195.70,339.83 L196.20,339.69 L196.70,339.55 L197.20,339.41 L197.70,339.27 L198.20,339.13 L198.70,339.00 L199.20,338.86 L199.70,338.72 L200.20,338.59 L200.70,338.45 L201.20,338.32 L201.70,338.19 L202.20,338.05 L202.70,337.92 L203.20,337.79 L203.70,337.66 L204.20,337.53 L204.70,337.39 L205.20,337.26 L205.70,337.14 L206.20,337.01 L206.70,336.88 L207.20,336.75 L207.70,336.62 L208.20,336.49 L208.70,336.37 L209.20,336.24 L209.70,336.11 L210.20,335.99 L210.70,335.86 L211.20,335.74 L211.70,335.61 L212.20,335.49 L212.70,335.37 L213.20,335.24 L213.70,335.12 L214.20,335.00 L214.70,334.88 L215.20,334.76 L215.70,334.64 L216.20,334.52 L216.70,334.40 L217.20,334.28 L217.70,334.16 L218.20,334.04 L218.70,333.92 L219.20,333.81 L219.70,333.69 L220.20,333.58 L220.70,333.46 L221.20,333.34 L221.70,333.23 L222.20,333.12 L222.70,333.00 L223.20,332.89 L223.70,332.78 L224.20,332.66 L224.70,332.55 L225.20,332.44 L225.70,332.33 L226.20,332.22 L226.70,332.11 L227.20,332.00 L227.70,331.90 L228.20,331.79 L228.70,331.68 L229.20,331.57 L229.70,331.47 L230.20,331.36 L230.70,331.26 L231.20,331.15 L231.70,331.05 L232.20,330.95 L232.70,330.85 L233.20,330.74 L233.70,330.64 L234.20,330.54 L234.70,330.44 L235.20,330.34 L235.70,330.24 L236.20,330.15 L236.70,330.05 L237.20,329.95 L237.70,329.85 L238.20,329.76 L238.70,329.66 L239.20,329.57 L239.70,329.48 L240.20,329.38 L240.70,329.29 L241.20,329.20 L241.70,329.11 L242.20,329.02 L242.70,328.93 L243.20,328.84 L243.70,328.75 L244.20,328.66 L244.70,328.57 L245.20,328.49 L245.70,328.40 L246.20,328.31 L246.70,328.23 L247.20,328.15 L247.70,328.06 L248.20,327.98 L248.70,327.90 L249.20,327.82 L249.70,327.73 L250.20,327.65 L250.70,327.57 L251.20,327.50 L251.70,327.42 L252.20,327.34 L252.70,327.26 L253.20,327.19 L253.70,327.11 L254.20,327.04 L254.70,326.96 L255.20,326.89 L255.70,326.82 L256.20,326.74 L256.70,326.67 L257.20,326.60 L257.70,326.53 L258.20,326.46 L258.70,326.39 L259.20,326.33 L259.70,326.26 L260.20,326.19 L260.70,326.13 L261.20,326.06 L261.70,326.00 L262.20,325.93 L262.70,325.87 L263.20,325.81 L263.70,325.74 L264.20,325.68 L264.70,325.62 L265.20,325.56 L265.70,325.50 L266.20,325.44 L266.70,325.39 L267.20,325.33 L267.70,325.27 L268.20,325.22 L268.70,325.16 L269.20,325.11 L269.70,325.05 L270.20,325.00 L270.70,324.95 L271.20,324.89 L271.70,324.84 L272.20,324.79 L272.70,324.74 L273.20,324.69 L273.70,324.64 L274.20,324.60 L274.70,324.55 L275.20,324.50 L275.70,324.46 L276.20,324.41 L276.70,324.37 L277.20,324.32 L277.70,324.28 L278.20,324.23 L278.70,324.19 L279.20,324.15 L279.70,324.11 L280.20,324.07 L280.70,324.03 L281.20,323.99 L281.70,323.95 L282.20,323.91 L282.70,323.88 L283.20,323.84 L283.70,323.80 L284.20,323.77 L284.70,323.73 L285.20,323.70 L285.70,323.67 L286.20,323.63 L286.70,323.60 L287.20,323.57 L287.70,323.54 L288.20,323.51 L288.70,323.48 L289.20,323.45 L289.70,323.42 L290.20,323.39 L290.70,323.37 L291.20,323.34 L291.70,323.31 L292.20,323.29 L292.70,323.26 L293.20,323.24 L293.70,323.21 L294.20,323.19 L294.70,323.17 L295.20,323.14 L295.70,323.12 L296.20,323.10 L296.70,323.08 L297.20,323.06 L297.70,323.04 L298.20,323.02 L298.70,323.00 L299.20,322.99 L299.70,322.97 L300.20,322.95 L300.70,322.94 L301.20,322.92 L301.70,322.90 L302.20,322.89 L302.70,322.88 L303.20,322.86 L303.70,322.85 L304.20,322.84 L304.70,322.83 L305.20,322.81 L305.70,322.80 L306.20,322.79 L306.70,322.78 L307.20,322.77 L307.70,322.76 L308.20,322.76 L308.70,322.75 L309.20,322.74 L309.70,322.73 L310.20,322.73 L310.70,322.72 L311.20,322.72 L311.70,322.71 L312.20,322.71 L312.70,322.70 L313.20,322.70 L313.70,322.70 L314.20,322.70 L314.70,322.69 L315.20,322.69 L315.70,322.69 L316.20,322.69 L316.70,322.69 L317.20,322.69 L317.70,322.70 L318.20,322.70 L318.70,322.70 L319.20,322.70 L319.70,322.71 L320.20,322.71 L320.70,322.71 L321.20,322.72 L321.70,322.72 L322.20,322.73 L322.70,322.74 L323.20,322.74 L323.70,322.75 L324.20,322.76 L324.70,322.77 L325.20,322.77 L325.70,322.78 L326.20,322.79 L326.70,322.80 L327.20,322.81 L327.70,322.82 L328.20,322.84 L328.70,322.85 L329.20,322.86 L329.70,322.87 L330.20,322.89 L330.70,322.90 L331.20,322.92 L331.70,322.93 L332.20,322.95 L332.70,322.96 L333.20,322.98 L333.70,323.00 L334.20,323.01 L334.70,323.03 L335.20,323.05 L335.70,323.07 L336.20,323.09 L336.70,323.11 L337.20,323.13 L337.70,323.15 L338.20,323.17 L338.70,323.19 L339.20,323.21 L339.70,323.23 L340.20,323.26 L340.70,323.28 L341.20,323.30 L341.70,323.33 L342.20,323.35 L342.70,323.38 L343.20,323.40 L343.70,323.43 L344.20,323.46 L344.70,323.48 L345.20,323.51 L345.70,323.54 L346.20,323.57 L346.70,323.60 L347.20,323.63 L347.70,323.66 L348.20,323.69 L348.70,323.72 L349.20,323.75 L349.70,323.78 L350.20,323.82 L350.70,323.85 L351.20,323.88 L351.70,323.92 L352.20,323.95 L352.70,323.98 L353.20,324.02 L353.70,324.06 L354.20,324.09 L354.70,324.13 L355.20,324.17 L355.70,324.20 L356.20,324.24 L356.70,324.28 L357.20,324.32 L357.70,324.36 L358.20,324.40 L358.70,324.44 L359.20,324.48 L359.70,324.52 L360.20,324.56 L360.70,324.60 L361.20,324.65 L361.70,324.69 L362.20,324.73 L362.70,324.78 L363.20,324.82 L363.70,324.87 L364.20,324.91 L364.70,324.96 L365.20,325.00 L365.70,325.05 L366.20,325.10 L366.70,325.14 L367.20,325.19 L367.70,325.24 L368.20,325.29 L368.70,325.34 L369.20,325.39 L369.70,325.44 L370.20,325.49 L370.70,325.54 L371.20,325.59 L371.70,325.64 L372.20,325.70 L372.70,325.75 L373.20,325.80 L373.70,325.86 L374.20,325.91 L374.70,325.97 L375.20,326.02 L375.70,326.08 L376.20,326.13 L376.70,326.19 L377.20,326.25 L377.70,326.30 L378.20,326.36 L378.70,326.42 L379.20,326.48 L379.70,326.53 L380.20,326.59 L380.70,326.65 L381.20,326.71 L381.70,326.77 L382.20,326.83 L382.70,326.90 L383.20,326.96 L383.70,327.02 L384.20,327.08 L384.70,327.14 L385.20,327.21 L385.70,327.27 L386.20,327.33 L386.70,327.40 L387.20,327.46 L387.70,327.53 L388.20,327.59 L388.70,327.66 L389.20,327.73 L389.70,327.79 L390.20,327.86 L390.70,327.93 L391.20,327.99 L391.70,328.06 L392.20,328.13 L392.70,328.20 L393.20,328.27 L393.70,328.34 L394.20,328.41 L394.70,328.48 L395.20,328.55 L395.70,328.62 L396.20,328.69 L396.70,328.76 L397.20,328.83 L397.70,328.90 L398.20,328.98 L398.70,329.05 L399.20,329.12 L399.70,329.20 L400.20,329.27 L400.70,329.34 L401.20,329.42 L401.70,329.49 L402.20,329.57 L402.70,329.64 L403.20,329.72 L403.70,329.79 L404.20,329.87 L404.70,329.95 L405.20,330.02 L405.70,330.10 L406.20,330.18 L406.70,330.26 L407.20,330.33 L407.70,330.41 L408.20,330.49 L408.70,330.57 L409.20,330.65 L409.70,330.72 L410.20,330.80 L410.70,330.88 L411.20,330.96 L411.70,331.04 L412.20,331.12 L412.70,331.20 L413.20,331.28 L413.70,331.36 L414.20,331.44 L414.70,331.53 L415.20,331.61 L415.70,331.69 L416.20,331.77 L416.70,331.85 L417.20,331.93 L417.70,332.02 L418.20,332.10 L418.70,332.18 L419.20,332.26 L419.70,332.35 L420.20,332.43 L420.70,332.51 L421.20,332.60 L421.70,332.68 L422.20,332.76 L422.70,332.85 L423.20,332.93 L423.70,333.01 L424.20,333.10 L424.70,333.18 L425.20,333.27 L425.70,333.35 L426.20,333.43 L426.70,333.52 L427.20,333.60 L427.70,333.69 L428.20,333.77 L428.70,333.86 L429.20,333.94 L429.70,334.03 L430.20,334.11 L430.70,334.20 L431.20,334.29 L431.70,334.37 L432.20,334.46 L432.70,334.54 L433.20,334.63 L433.70,334.71 L434.20,334.80 L434.70,334.89 L435.20,334.97 L435.70,335.06 L436.20,335.14 L436.70,335.23 L437.20,335.32 L437.70,335.40 L438.20,335.49 L438.70,335.57 L439.20,335.66 L439.70,335.75 L440.20,335.83 L440.70,335.92 L441.20,336.01 L441.70,336.09 L442.20,336.18 L442.70,336.26 L443.20,336.35 L443.70,336.44 L444.20,336.52 L444.70,336.61 L445.20,336.70 L445.70,336.78 L446.20,336.87 L446.70,336.96 L447.20,337.04 L447.70,337.13 L448.20,337.22 L448.70,337.30 L449.20,337.39 L449.70,337.47 L450.20,337.56 L450.70,337.65 L451.20,337.73 L451.70,337.82 L452.20,337.91 L452.70,337.99 L453.20,338.08 L453.70,338.16 L454.20,338.25 L454.70,338.34 L455.20,338.42 L455.70,338.51 L456.20,338.59 L456.70,338.68 L457.20,338.76 L457.70,338.85 L458.20,338.93 L458.70,339.02 L459.20,339.11 L459.70,339.19 L460.20,339.28 L460.70,339.36 L461.20,339.45 L461.70,339.53 L462.20,339.62 L462.70,339.70 L463.20,339.79 L463.70,339.87 L464.20,339.95 L464.70,340.04 L465.20,340.12 L465.70,340.21 L466.20,340.29 L466.70,340.37 L467.20,340.46 L467.70,340.54 L468.20,340.63 L468.70,340.71 L469.20,340.79 L469.70,340.88 L470.20,340.96 L470.70,341.04 L471.20,341.12 L471.70,341.21 L472.20,341.29 L472.70,341.37 L473.20,341.46 L473.70,341.54 L474.20,341.62 L474.70,341.70 L475.20,341.78 L475.70,341.86 L476.20,341.95 L476.70,342.03 L477.20,342.11 L477.70,342.19 L478.20,342.27 L478.70,342.35 L479.20,342.43 L479.70,342.51 L480.20,342.59 L480.70,342.67 L481.20,342.75 L481.70,342.83 L482.20,342.91 L482.70,342.99 L483.20,343.07 L483.70,343.15 L484.20,343.23 L484.70,343.31 L485.20,343.39 L485.70,343.46 L486.20,343.54 L486.70,343.62 L487.20,343.70 L487.70,343.78 L488.20,343.85 L488.70,343.93 L489.20,344.01 L489.70,344.08 L490.20,344.16 L490.70,344.24 L491.20,344.31 L491.70,344.39 L492.20,344.47 L492.70,344.54 L493.20,344.62 L493.70,344.69 L494.20,344.77 L494.70,344.84 L495.20,344.92 L495.70,344.99 L496.20,345.07 L496.70,345.14 L497.20,345.21 L497.70,345.29 L498.20,345.36 L498.70,345.43 L499.20,345.51 L499.70,345.58 L500.20,345.65 L500.70,345.73 L501.20,345.80 L501.70,345.87 L502.20,345.94 L502.70,346.01 L503.20,346.09 L503.70,346.16 L504.20,346.23 L504.70,346.30 L505.20,346.37 L505.70,346.44 L506.20,346.51 L506.70,346.58 L507.20,346.65 L507.70,346.72 L508.20,346.79 L508.70,346.86 L509.20,346.93 L509.70,347.00 L510.20,347.06 L510.70,347.13 L511.20,347.20 L511.70,347.27 L512.20,347.34 L512.70,347.40 L513.20,347.47 L513.70,347.54 L514.20,347.60 L514.70,347.67 L515.20,347.74 L515.70,347.80 L516.20,347.87 L516.70,347.94 L517.20,348.00 L517.70,348.07 L518.20,348.13 L518.70,348.20 L519.20,348.26 L519.70,348.33 L520.20,348.39 L520.70,348.45 L521.20,348.52 L521.70,348.58 L522.20,348.65 L522.70,348.71 L523.20,348.77 L523.70,348.84 L524.20,348.90 L524.70,348.96 L525.20,349.02 L525.70,349.08 L526.20,349.15 L526.70,349.21 L527.20,349.27 L527.70,349.33 L528.20,349.39 L528.70,349.45 L529.20,349.51 L529.70,349.57 L530.20,349.63 L530.70,349.69 L531.20,349.75 L531.70,349.81 L532.20,349.87 L532.70,349.93 L533.20,349.99 L533.70,350.05 L534.20,350.11 L534.70,350.17 L535.20,350.23 L535.70,350.29 L536.20,350.34 L536.70,350.40 L537.20,350.46 L537.70,350.52 L538.20,350.57 L538.70,350.63 L539.20,350.69 L539.70,350.74 L540.20,350.80 L540.70,350.86 L541.00,350.89" stroke="#d39a17"/>
<path d="M101.80,330.57 L102.30,330.11 L102.80,329.65 L103.30,329.18 L103.80,328.72 L104.30,328.26 L104.80,327.80 L105.30,327.34 L105.80,326.89 L106.30,326.43 L106.80,325.98 L107.30,325.53 L107.80,325.08 L108.30,324.63 L108.80,324.18 L109.30,323.74 L109.80,323.30 L110.30,322.86 L110.80,322.43 L111.30,321.99 L111.80,321.56 L112.30,321.14 L112.80,320.71 L113.30,320.29 L113.80,319.87 L114.30,319.45 L114.80,319.04 L115.30,318.63 L115.80,318.22 L116.30,317.82 L116.80,317.41 L117.30,317.01 L117.80,316.62 L118.30,316.22 L118.80,315.83 L119.30,315.45 L119.80,315.06 L120.30,314.68 L120.80,314.30 L121.30,313.93 L121.80,313.55 L122.30,313.18 L122.80,312.82 L123.30,312.45 L123.80,312.09 L124.30,311.73 L124.80,311.38 L125.30,311.03 L125.80,310.68 L126.30,310.33 L126.80,309.99 L127.30,309.65 L127.80,309.31 L128.30,308.97 L128.80,308.64 L129.30,308.31 L129.80,307.99 L130.30,307.67 L130.80,307.35 L131.30,307.03 L131.80,306.72 L132.30,306.41 L132.80,306.11 L133.30,305.80 L133.80,305.51 L134.30,305.21 L134.80,304.92 L135.30,304.64 L135.80,304.35 L136.30,304.07 L136.80,303.80 L137.30,303.53 L137.80,303.26 L138.30,303.00 L138.80,302.74 L139.30,302.48 L139.80,302.23 L140.30,301.98 L140.80,301.74 L141.30,301.50 L141.80,301.27 L142.30,301.04 L142.80,300.81 L143.30,300.59 L143.80,300.37 L144.30,300.16 L144.80,299.95 L145.30,299.74 L145.80,299.54 L146.30,299.34 L146.80,299.15 L147.30,298.95 L147.80,298.77 L148.30,298.58 L148.80,298.40 L149.30,298.23 L149.80,298.05 L150.30,297.88 L150.80,297.72 L151.30,297.56 L151.80,297.40 L152.30,297.24 L152.80,297.09 L153.30,296.94 L153.80,296.80 L154.30,296.66 L154.80,296.52 L155.30,296.39 L155.80,296.25 L156.30,296.13 L156.80,296.00 L157.30,295.88 L157.80,295.76 L158.30,295.65 L158.80,295.54 L159.30,295.43 L159.80,295.32 L160.30,295.22 L160.80,295.12 L161.30,295.02 L161.80,294.93 L162.30,294.84 L162.80,294.75 L163.30,294.66 L163.80,294.58 L164.30,294.50 L164.80,294.42 L165.30,294.35 L165.80,294.28 L166.30,294.21 L166.80,294.14 L167.30,294.08 L167.80,294.02 L168.30,293.96 L168.80,293.90 L169.30,293.85 L169.80,293.80 L170.30,293.75 L170.80,293.70 L171.30,293.66 L171.80,293.62 L172.30,293.58 L172.80,293.54 L173.30,293.51 L173.80,293.48 L174.30,293.45 L174.80,293.42 L175.30,293.40 L175.80,293.37 L176.30,293.35 L176.80,293.33 L177.30,293.32 L177.80,293.30 L178.30,293.29 L178.80,293.28 L179.30,293.28 L179.80,293.27 L180.30,293.27 L180.80,293.26 L181.30,293.27 L181.80,293.27 L182.30,293.27 L182.80,293.28 L183.30,293.29 L183.80,293.30 L184.30,293.31 L184.80,293.33 L185.30,293.34 L185.80,293.36 L186.30,293.38 L186.80,293.41 L187.30,293.43 L187.80,293.46 L188.30,293.48 L188.80,293.52 L189.30,293.55 L189.80,293.58 L190.30,293.62 L190.80,293.66 L191.30,293.70 L191.80,293.74 L192.30,293.78 L192.80,293.83 L193.30,293.87 L193.80,293.92 L194.30,293.97 L194.80,294.02 L195.30,294.08 L195.80,294.14 L196.30,294.19 L196.80,294.25 L197.30,294.31 L197.80,294.38 L198.30,294.44 L198.80,294.51 L199.30,294.58 L199.80,294.64 L200.30,294.72 L200.80,294.79 L201.30,294.86 L201.80,294.94 L202.30,295.02 L202.80,295.09 L203.30,295.18 L203.80,295.26 L204.30,295.34 L204.80,295.43 L205.30,295.51 L205.80,295.60 L206.30,295.69 L206.80,295.78 L207.30,295.87 L207.80,295.96 L208.30,296.06 L208.80,296.15 L209.30,296.25 L209.80,296.35 L210.30,296.45 L210.80,296.55 L211.30,296.65 L211.80,296.76 L212.30,296.86 L212.80,296.97 L213.30,297.08 L213.80,297.18 L214.30,297.29 L214.80,297.41 L215.30,297.52 L215.80,297.63 L216.30,297.75 L216.80,297.86 L217.30,297.98 L217.80,298.10 L218.30,298.22 L218.80,298.34 L219.30,298.46 L219.80,298.58 L220.30,298.71 L220.80,298.83 L221.30,298.96 L221.80,299.09 L222.30,299.21 L222.80,299.34 L223.30,299.47 L223.80,299.61 L224.30,299.74 L224.80,299.87 L225.30,300.01 L225.80,300.14 L226.30,300.28 L226.80,300.41 L227.30,300.55 L227.80,300.69 L228.30,300.83 L228.80,300.97 L229.30,301.12 L229.80,301.26 L230.30,301.40 L230.80,301.55 L231.30,301.69 L231.80,301.84 L232.30,301.99 L232.80,302.13 L233.30,302.28 L233.80,302.43 L234.30,302.58 L234.80,302.73 L235.30,302.88 L235.80,303.04 L236.30,303.19 L236.80,303.34 L237.30,303.50 L237.80,303.65 L238.30,303.81 L238.80,303.97 L239.30,304.12 L239.80,304.28 L240.30,304.44 L240.80,304.60 L241.30,304.76 L241.80,304.92 L242.30,305.08 L242.80,305.24 L243.30,305.41 L243.80,305.57 L244.30,305.73 L244.80,305.90 L245.30,306.06 L245.80,306.23 L246.30,306.39 L246.80,306.56 L247.30,306.72 L247.80,306.89 L248.30,307.06 L248.80,307.22 L249.30,307.39 L249.80,307.56 L250.30,307.73 L250.80,307.90 L251.30,308.07 L251.80,308.24 L252.30,308.41 L252.80,308.58 L253.30,308.75 L253.80,308.92 L254.30,309.09 L254.80,309.26 L255.30,309.43 L255.80,309.60 L256.30,309.78 L256.80,309.95 L257.30,310.12 L257.80,310.29 L258.30,310.47 L258.80,310.64 L259.30,310.81 L259.80,310.99 L260.30,311.16 L260.80,311.34 L261.30,311.51 L261.80,311.68 L262.30,311.86 L262.80,312.03 L263.30,312.21 L263.80,312.38 L264.30,312.56 L264.80,312.73 L265.30,312.91 L265.80,313.08 L266.30,313.26 L266.80,313.43 L267.30,313.61 L267.80,313.78 L268.30,313.96 L268.80,314.13 L269.30,314.31 L269.80,314.48 L270.30,314.66 L270.80,314.83 L271.30,315.01 L271.80,315.18 L272.30,315.36 L272.80,315.53 L273.30,315.71 L273.80,315.88 L274.30,316.06 L274.80,316.23 L275.30,316.41 L275.80,316.58 L276.30,316.76 L276.80,316.93 L277.30,317.11 L277.80,317.28 L278.30,317.46 L278.80,317.63 L279.30,317.80 L279.80,317.98 L280.30,318.15 L280.80,318.33 L281.30,318.50 L281.80,318.67 L282.30,318.85 L282.80,319.02 L283.30,319.19 L283.80,319.37 L284.30,319.54 L284.80,319.71 L285.30,319.89 L285.80,320.06 L286.30,320.23 L286.80,320.40 L287.30,320.57 L287.80,320.75 L288.30,320.92 L288.80,321.09 L289.30,321.26 L289.80,321.43 L290.30,321.60 L290.80,321.77 L291.30,321.94 L291.80,322.11 L292.30,322.28 L292.80,322.45 L293.30,322.62 L293.80,322.79 L294.30,322.96 L294.80,323.13 L295.30,323.30 L295.80,323.47 L296.30,323.63 L296.80,323.80 L297.30,323.97 L297.80,324.14 L298.30,324.30 L298.80,324.47 L299.30,324.64 L299.80,324.80 L300.30,324.97 L300.80,325.13 L301.30,325.30 L301.80,325.46 L302.30,325.63 L302.80,325.79 L303.30,325.96 L303.80,326.12 L304.30,326.28 L304.80,326.45 L305.30,326.61 L305.80,326.77 L306.30,326.93 L306.80,327.10 L307.30,327.26 L307.80,327.42 L308.30,327.58 L308.80,327.74 L309.30,327.90 L309.80,328.06 L310.30,328.22 L310.80,328.38 L311.30,328.54 L311.80,328.69 L312.30,328.85 L312.80,329.01 L313.30,329.17 L313.80,329.32 L314.30,329.48 L314.80,329.64 L315.30,329.79 L315.80,329.95 L316.30,330.10 L316.80,330.26 L317.30,330.41 L317.80,330.57 L318.30,330.72 L318.80,330.87 L319.30,331.03 L319.80,331.18 L320.30,331.33 L320.80,331.48 L321.30,331.63 L321.80,331.79 L322.30,331.94 L322.80,332.09 L323.30,332.24 L323.80,332.39 L324.30,332.53 L324.80,332.68 L325.30,332.83 L325.80,332.98 L326.30,333.13 L326.80,333.27 L327.30,333.42 L327.80,333.57 L328.30,333.71 L328.80,333.86 L329.30,334.00 L329.80,334.15 L330.30,334.29 L330.80,334.44 L331.30,334.58 L331.80,334.72 L332.30,334.86 L332.80,335.01 L333.30,335.15 L333.80,335.29 L334.30,335.43 L334.80,335.57 L335.30,335.71 L335.80,335.85 L336.30,335.99 L336.80,336.13 L337.30,336.27 L337.80,336.40 L338.30,336.54 L338.80,336.68 L339.30,336.82 L339.80,336.95 L340.30,337.09 L340.80,337.22 L341.30,337.36 L341.80,337.49 L342.30,337.63 L342.80,337.76 L343.30,337.89 L343.80,338.03 L344.30,338.16 L344.80,338.29 L345.30,338.42 L345.80,338.55 L346.30,338.68 L346.80,338.81 L347.30,338.94 L347.80,339.07 L348.30,339.20 L348.80,339.33 L349.30,339.46 L349.80,339.59 L350.30,339.71 L350.80,339.84 L351.30,339.97 L351.80,340.09 L352.30,340.22 L352.80,340.34 L353.30,340.47 L353.80,340.59 L354.30,340.72 L354.80,340.84 L355.30,340.96 L355.80,341.08 L356.30,341.21 L356.80,341.33 L357.30,341.45 L357.80,341.57 L358.30,341.69 L358.80,341.81 L359.30,341.93 L359.80,342.05 L360.30,342.17 L360.80,342.28 L361.30,342.40 L361.80,342.52 L362.30,342.63 L362.80,342.75 L363.30,342.87 L363.80,342.98 L364.30,343.10 L364.80,343.21 L365.30,343.33 L365.80,343.44 L366.30,343.55 L366.80,343.67 L367.30,343.78 L367.80,343.89 L368.30,344.00 L368.80,344.11 L369.30,344.22 L369.80,344.33 L370.30,344.44 L370.80,344.55 L371.30,344.66 L371.80,344.77 L372.30,344.88 L372.80,344.99 L373.30,345.09 L373.80,345.20 L374.30,345.31 L374.80,345.41 L375.30,345.52 L375.80,345.63 L376.30,345.73 L376.80,345.84 L377.30,345.94 L377.80,346.04 L378.30,346.15 L378.80,346.25 L379.30,346.35 L379.80,346.46 L380.30,346.56 L380.80,346.66 L381.30,346.76 L381.80,346.86 L382.30,346.96 L382.80,347.06 L383.30,347.16 L383.80,347.26 L384.30,347.36 L384.80,347.46 L385.30,347.56 L385.80,347.65 L386.30,347.75 L386.80,347.85 L387.30,347.95 L387.80,348.04 L388.30,348.14 L388.80,348.23 L389.30,348.33 L389.80,348.42 L390.30,348.52 L390.80,348.61 L391.30,348.71 L391.80,348.80 L392.30,348.89 L392.80,348.99 L393.30,349.08 L393.80,349.17 L394.30,349.26 L394.80,349.36 L395.30,349.45 L395.80,349.54 L396.30,349.63 L396.80,349.72 L397.30,349.81 L397.80,349.90 L398.30,349.99 L398.80,350.08 L399.30,350.17 L399.80,350.25 L400.30,350.34 L400.80,350.43 L401.30,350.52 L401.80,350.61 L402.30,350.69 L402.80,350.78 L403.30,350.87 L403.80,350.95 L404.30,351.04 L404.80,351.12 L405.30,351.21 L405.80,351.30 L406.30,351.38 L406.80,351.46 L407.30,351.55 L407.80,351.63 L408.30,351.72 L408.80,351.80 L409.30,351.88 L409.80,351.97 L410.30,352.05 L410.80,352.13 L411.30,352.21 L411.80,352.29 L412.30,352.38 L412.80,352.46 L413.30,352.54 L413.80,352.62 L414.30,352.70 L414.80,352.78 L415.30,352.86 L415.80,352.94 L416.30,353.02 L416.80,353.10 L417.30,353.17 L417.80,353.25 L418.30,353.33 L418.80,353.41 L419.30,353.49 L419.80,353.56 L420.30,353.64 L420.80,353.72 L421.30,353.79 L421.80,353.87 L422.30,353.95 L422.80,354.02 L423.30,354.10 L423.80,354.17 L424.30,354.25 L424.80,354.32 L425.30,354.40 L425.80,354.47 L426.30,354.54 L426.80,354.62 L427.30,354.69 L427.80,354.76 L428.30,354.84 L428.80,354.91 L429.30,354.98 L429.80,355.05 L430.30,355.12 L430.80,355.20 L431.30,355.27 L431.80,355.34 L432.30,355.41 L432.80,355.48 L433.30,355.55 L433.80,355.62 L434.30,355.69 L434.80,355.76 L435.30,355.83 L435.80,355.90 L436.30,355.97 L436.80,356.03 L437.30,356.10 L437.80,356.17 L438.30,356.24 L438.80,356.30 L439.30,356.37 L439.80,356.44 L440.30,356.51 L440.80,356.57 L441.30,356.64 L441.80,356.70 L442.30,356.77 L442.80,356.83 L443.30,356.90 L443.80,356.97 L444.30,357.03 L444.80,357.09 L445.30,357.16 L445.80,357.22 L446.30,357.29 L446.80,357.35 L447.30,357.41 L447.80,357.48 L448.30,357.54 L448.80,357.60 L449.30,357.66 L449.80,357.73 L450.30,357.79 L450.80,357.85 L451.30,357.91 L451.80,357.97 L452.30,358.03 L452.80,358.09 L453.30,358.15 L453.80,358.21 L454.30,358.27 L454.80,358.33 L455.30,358.39 L455.80,358.45 L456.30,358.51 L456.80,358.57 L457.30,358.63 L457.80,358.69 L458.30,358.75 L458.80,358.80 L459.30,358.86 L459.80,358.92 L460.30,358.98 L460.80,359.03 L461.30,359.09 L461.80,359.15 L462.30,359.20 L462.80,359.26 L463.30,359.32 L463.80,359.37 L464.30,359.43 L464.80,359.48 L465.30,359.54 L465.80,359.59 L466.30,359.65 L466.80,359.70 L467.30,359.76 L467.80,359.81 L468.30,359.86 L468.80,359.92 L469.30,359.97 L469.80,360.02 L470.30,360.08 L470.80,360.13 L471.30,360.18 L471.80,360.24 L472.30,360.29 L472.80,360.34 L473.30,360.39 L473.80,360.44 L474.30,360.49 L474.80,360.55 L475.30,360.60 L475.80,360.65 L476.30,360.70 L476.80,360.75 L477.30,360.80 L477.80,360.85 L478.30,360.90 L478.80,360.95 L479.30,361.00 L479.80,361.05 L480.30,361.09 L480.80,361.14 L481.30,361.19 L481.80,361.24 L482.30,361.29 L482.80,361.34 L483.30,361.38 L483.80,361.43 L484.30,361.48 L484.80,361.52 L485.30,361.57 L485.80,361.62 L486.30,361.66 L486.80,361.71 L487.30,361.76 L487.80,361.80 L488.30,361.85 L488.80,361.89 L489.30,361.94 L489.80,361.98 L490.30,362.03 L490.80,362.07 L491.30,362.12 L491.80,362.16 L492.30,362.21 L492.80,362.25 L493.30,362.30 L493.80,362.34 L494.30,362.38 L494.80,362.43 L495.30,362.47 L495.80,362.51 L496.30,362.56 L496.80,362.60 L497.30,362.64 L497.80,362.68 L498.30,362.72 L498.80,362.77 L499.30,362.81 L499.80,362.85 L500.30,362.89 L500.80,362.93 L501.30,362.97 L501.80,363.01 L502.30,363.05 L502.80,363.09 L503.30,363.14 L503.80,363.18 L504.30,363.22 L504.80,363.25 L505.30,363.29 L505.80,363.33 L506.30,363.37 L506.80,363.41 L507.30,363.45 L507.80,363.49 L508.30,363.53 L508.80,363.57 L509.30,363.61 L509.80,363.64 L510.30,363.68 L510.80,363.72 L511.30,363.76 L511.80,363.79 L512.30,363.83 L512.80,363.87 L513.30,363.91 L513.80,363.94 L514.30,363.98 L514.80,364.02 L515.30,364.05 L515.80,364.09 L516.30,364.13 L516.80,364.16 L517.30,364.20 L517.80,364.23 L518.30,364.27 L518.80,364.30 L519.30,364.34 L519.80,364.37 L520.30,364.41 L520.80,364.44 L521.30,364.48 L521.80,364.51 L522.30,364.55 L522.80,364.58 L523.30,364.62 L523.80,364.65 L524.30,364.68 L524.80,364.72 L525.30,364.75 L525.80,364.78 L526.30,364.82 L526.80,364.85 L527.30,364.88 L527.80,364.92 L528.30,364.95 L528.80,364.98 L529.30,365.01 L529.80,365.05 L530.30,365.08 L530.80,365.11 L531.30,365.14 L531.80,365.17 L532.30,365.21 L532.80,365.24 L533.30,365.27 L533.80,365.30 L534.30,365.33 L534.80,365.36 L535.30,365.39 L535.80,365.42 L536.30,365.45 L536.80,365.48 L537.30,365.52 L537.80,365.55 L538.30,365.58 L538.80,365.61 L539.30,365.64 L539.80,365.67 L540.30,365.70 L540.80,365.73 L541.00,365.74" stroke="#2f6391"/>
</g>
<g stroke="#000" stroke-width="1.5" fill="none">
<line x1="127.4" y1="105.4" x2="119.3" y2="128.6"/>
<line x1="114.8" y1="281.9" x2="107.0" y2="301.1"/>
<line x1="190.2" y1="269.8" x2="181.8" y2="293.3"/>
<line x1="324.2" y1="298.9" x2="316" y2="322.7"/>
</g>
<rect x="117.5" y="126.8" width="3.6" height="3.6" fill="#000"/>
<rect x="105.2" y="299.3" width="3.6" height="3.6" fill="#000"/>
<rect x="180.0" y="291.5" width="3.6" height="3.6" fill="#000"/>
<rect x="314.2" y="320.9" width="3.6" height="3.6" fill="#000"/>
<g stroke="#333" stroke-width="1">
<line x1="56.60" x2="56.60" y1="393.05" y2="395.85"/>
<line x1="89.51" x2="89.51" y1="393.05" y2="395.85"/>
<line x1="122.43" x2="122.43" y1="393.05" y2="395.85"/>
<line x1="155.34" x2="155.34" y1="393.05" y2="395.85"/>
<line x1="188.26" x2="188.26" y1="393.05" y2="395.85"/>
<line x1="221.17" x2="221.17" y1="393.05" y2="395.85"/>
<line x1="254.08" x2="254.08" y1="393.05" y2="395.85"/>
<line x1="287.00" x2="287.00" y1="393.05" y2="395.85"/>
<line x1="319.91" x2="319.91" y1="393.05" y2="395.85"/>
<line x1="352.83" x2="352.83" y1="393.05" y2="395.85"/>
<line x1="385.74" x2="385.74" y1="393.05" y2="395.85"/>
<line x1="418.65" x2="418.65" y1="393.05" y2="395.85"/>
<line x1="451.57" x2="451.57" y1="393.05" y2="395.85"/>
<line x1="484.48" x2="484.48" y1="393.05" y2="395.85"/>
<line x1="517.40" x2="517.40" y1="393.05" y2="395.85"/>
<line x1="30.9" x2="33.3" y1="376.05" y2="376.05"/>
<line x1="30.9" x2="33.3" y1="258.43" y2="258.43"/>
<line x1="30.9" x2="33.3" y1="140.80" y2="140.80"/>
<line x1="30.9" x2="33.3" y1="23.18" y2="23.18"/>
</g>
<text x="56.60" y="404.2" font-size="8.3" text-anchor="middle" fill="#3d3d3d" stroke="#3d3d3d" >0</text>
<text x="89.51" y="404.2" font-size="8.3" text-anchor="middle" fill="#3d3d3d" stroke="#3d3d3d" >2</text>
<text x="122.43" y="404.2" font-size="8.3" text-anchor="middle" fill="#3d3d3d" stroke="#3d3d3d" >4</text>
<text x="155.34" y="404.2" font-size="8.3" text-anchor="middle" fill="#3d3d3d" stroke="#3d3d3d" >6</text>
<text x="188.26" y="404.2" font-size="8.3" text-anchor="middle" fill="#3d3d3d" stroke="#3d3d3d" >8</text>
<text x="221.17" y="404.2" font-size="8.3" text-anchor="middle" fill="#3d3d3d" stroke="#3d3d3d" >10</text>
<text x="254.08" y="404.2" font-size="8.3" text-anchor="middle" fill="#3d3d3d" stroke="#3d3d3d" >12</text>
<text x="287.00" y="404.2" font-size="8.3" text-anchor="middle" fill="#3d3d3d" stroke="#3d3d3d" >14</text>
<text x="319.91" y="404.2" font-size="8.3" text-anchor="middle" fill="#3d3d3d" stroke="#3d3d3d" >16</text>
<text x="352.83" y="404.2" font-size="8.3" text-anchor="middle" fill="#3d3d3d" stroke="#3d3d3d" >18</text>
<text x="385.74" y="404.2" font-size="8.3" text-anchor="middle" fill="#3d3d3d" stroke="#3d3d3d" >20</text>
<text x="418.65" y="404.2" font-size="8.3" text-anchor="middle" fill="#3d3d3d" stroke="#3d3d3d" >22</text>
<text x="451.57" y="404.2" font-size="8.3" text-anchor="middle" fill="#3d3d3d" stroke="#3d3d3d" >24</text>
<text x="484.48" y="404.2" font-size="8.3" text-anchor="middle" fill="#3d3d3d" stroke="#3d3d3d" >26</text>
<text x="517.40" y="404.2" font-size="8.3" text-anchor="middle" fill="#3d3d3d" stroke="#3d3d3d" >28</text>
<text x="29.3" y="379.45" font-size="8.3" text-anchor="end" fill="#3d3d3d" stroke="#3d3d3d" >0.0</text>
<text x="29.3" y="261.82" font-size="8.3" text-anchor="end" fill="#3d3d3d" stroke="#3d3d3d" >0.5</text>
<text x="29.3" y="144.20" font-size="8.3" text-anchor="end" fill="#3d3d3d" stroke="#3d3d3d" >1.0</text>
<text x="29.3" y="26.58" font-size="8.3" text-anchor="end" fill="#3d3d3d" stroke="#3d3d3d" >1.5</text>
<text x="286.9" y="417.2" font-size="10.35" text-anchor="middle" fill="#000" >Follow−up, weeks</text>
<text transform="translate(12.6,200.0) rotate(-90)" font-size="10.45" text-anchor="middle">Incidence (events/person−years)</text>
<text x="66.9" y="447.2" font-size="10.5" text-anchor="start" fill="#000" >irAE</text>
<rect x="91.9" y="434.1" width="16.6" height="17" fill="#f2f2f2"/>
<line x1="93.5" x2="106.9" y1="442.55" y2="442.55" stroke="#0a8a0a" stroke-width="2.0"/>
<text x="113.4" y="445.9" font-size="8.5" text-anchor="start" fill="#000" >Biphasic thyroiditis − initial hyperthyroidism</text>
<rect x="280.6" y="434.1" width="16.6" height="17" fill="#f2f2f2"/>
<line x1="282.2" x2="295.6" y1="442.55" y2="442.55" stroke="#cd0b0b" stroke-width="2.0"/>
<text x="302.7" y="445.9" font-size="8.5" text-anchor="start" fill="#000" >Hyperthyroidism</text>
<rect x="369.3" y="434.1" width="16.6" height="17" fill="#f2f2f2"/>
<line x1="370.9" x2="384.3" y1="442.55" y2="442.55" stroke="#d39a17" stroke-width="2.0"/>
<text x="391.2" y="445.9" font-size="8.5" text-anchor="start" fill="#000" >Hypothyroidism</text>
<rect x="454.5" y="434.1" width="16.6" height="17" fill="#f2f2f2"/>
<line x1="456.1" x2="469.5" y1="442.55" y2="442.55" stroke="#2f6391" stroke-width="2.0"/>
<text x="476.7" y="445.9" font-size="8.5" text-anchor="start" fill="#000" >Pituitary</text>
</svg></body></html>
